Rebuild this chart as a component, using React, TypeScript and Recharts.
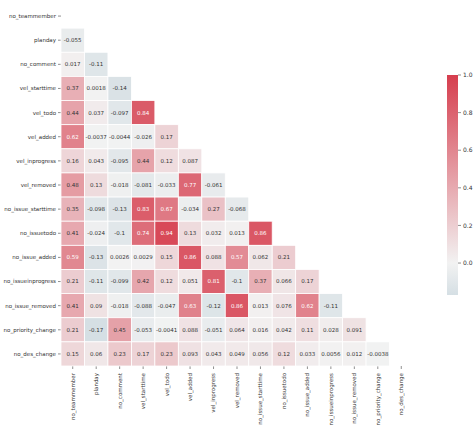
import {
  ScatterChart,
  Scatter,
  XAxis,
  YAxis,
  BarChart,
  Bar,
} from "recharts";

const labels = [
  "no_teammember",
  "planday",
  "no_comment",
  "vel_starttime",
  "vel_todo",
  "vel_added",
  "vel_inprogress",
  "vel_removed",
  "no_issue_starttime",
  "no_issuetodo",
  "no_issue_added",
  "no_issueinprogress",
  "no_issue_removed",
  "no_priority_change",
  "no_des_change",
];

// lower triangle, row i holds correlations with columns 0..i-1
const corrRows: number[][] = [
  [],
  [-0.055],
  [0.017, -0.11],
  [0.37, 0.0018, -0.14],
  [0.44, 0.037, -0.097, 0.84],
  [0.62, -0.0037, -0.0044, -0.026, 0.17],
  [0.16, 0.043, -0.095, 0.44, 0.12, 0.087],
  [0.48, 0.13, -0.018, -0.081, -0.033, 0.77, -0.061],
  [0.35, -0.098, -0.13, 0.83, 0.67, -0.034, 0.27, -0.068],
  [0.41, -0.024, -0.1, 0.74, 0.94, 0.13, 0.032, 0.013, 0.86],
  [0.59, -0.13, 0.0026, 0.0029, 0.15, 0.86, 0.088, 0.57, 0.062, 0.21],
  [0.21, -0.11, -0.099, 0.42, 0.12, 0.051, 0.81, -0.1, 0.37, 0.066, 0.17],
  [0.41, 0.09, -0.018, -0.088, -0.047, 0.63, -0.12, 0.86, 0.013, 0.076, 0.62, -0.11],
  [0.21, -0.17, 0.45, -0.053, -0.0041, 0.088, -0.051, 0.064, 0.016, 0.042, 0.11, 0.028, 0.091],
  [0.15, 0.06, 0.23, 0.17, 0.23, 0.093, 0.043, 0.049, 0.056, 0.12, 0.033, 0.0056, 0.012, -0.0038],
];

const colorbarTicks = [0, 0.2, 0.4, 0.6, 0.8, 1.0];
const colorbarRange = [-0.17, 1];

const POS = [214, 62, 78];
const MID = [242, 242, 242];
const NEG = [70, 130, 158];

function mix(a: number[], b: number[], t: number) {
  const c = a.map((v, i) => Math.round(v + (b[i] - v) * t));
  return `rgb(${c[0]},${c[1]},${c[2]})`;
}

function cellColor(v: number) {
  return v >= 0 ? mix(MID, POS, Math.min(v, 1)) : mix(MID, NEG, Math.min(-v, 1));
}

const cells = corrRows.flatMap((row, i) =>
  row.map((v, j) => ({ x: j, y: i, v }))
);

const FONT = "DejaVu Sans, sans-serif";
const CELL_W = 352 / 15;
const CELL_H = 362 / 15;

function Cell(props: any) {
  const { cx, cy, payload } = props;
  const v = payload.v;
  return (
    <g>
      <rect
        x={cx - CELL_W / 2}
        y={cy - CELL_H / 2}
        width={CELL_W}
        height={CELL_H}
        fill={cellColor(v)}
        stroke="#fff"
        strokeWidth={0.8}
      />
      <text
        x={cx}
        y={cy}
        dy="0.35em"
        textAnchor="middle"
        fontSize={5.5}
        fontFamily={FONT}
        fill={v > 0.5 ? "#fff" : "#333"}
      >
        {String(v)}
      </text>
    </g>
  );
}

function XTick(props: any) {
  const { x, y, payload } = props;
  return (
    <g transform={`translate(${x},${y})`}>
      <text
        transform="rotate(-90)"
        textAnchor="end"
        dy="0.35em"
        x={-2}
        fontSize={5.5}
        fontFamily={FONT}
        fill="#333"
      >
        {labels[payload.value]}
      </text>
    </g>
  );
}

function YTick(props: any) {
  const { x, y, payload } = props;
  return (
    <text
      x={x}
      y={y}
      dy="0.35em"
      textAnchor="end"
      fontSize={5.5}
      fontFamily={FONT}
      fill="#333"
    >
      {labels[payload.value]}
    </text>
  );
}

const idx = labels.map((_, i) => i);
const colorbarData = [{ name: "cb", range: colorbarRange }];
const zeroOffset = (colorbarRange[1] - 0) / (colorbarRange[1] - colorbarRange[0]);

export default function App() {
  return (
    <div
      style={{
        position: "absolute",
        left: 0,
        top: 0,
        width: 474,
        height: 427,
        background: "#fff",
      }}
    >
      <ScatterChart
        width={474}
        height={427}
        margin={{ top: 4, right: 61, bottom: 0, left: 0 }}
      >
        <XAxis
          type="number"
          dataKey="x"
          domain={[-0.5, 14.5]}
          ticks={idx}
          interval={0}
          height={61}
          axisLine={false}
          tickSize={3}
          tickLine={{ stroke: "#444", strokeWidth: 0.6 }}
          tick={<XTick />}
        />
        <YAxis
          type="number"
          dataKey="y"
          domain={[-0.5, 14.5]}
          reversed
          ticks={idx}
          interval={0}
          width={61}
          axisLine={false}
          tickSize={3}
          tickLine={{ stroke: "#444", strokeWidth: 0.6 }}
          tick={<YTick />}
        />
        <Scatter data={cells} shape={<Cell />} isAnimationActive={false} />
      </ScatterChart>

      <div style={{ position: "absolute", left: 447, top: 70 }}>
        <BarChart
          width={40}
          height={230}
          data={colorbarData}
          margin={{ top: 5, right: 0, bottom: 5, left: 0 }}
          barCategoryGap={0}
        >
          <defs>
            <linearGradient id="cbGrad" x1="0" y1="0" x2="0" y2="1">
              <stop offset="0" stopColor={cellColor(colorbarRange[1])} />
              <stop offset={zeroOffset} stopColor={cellColor(0)} />
              <stop offset="1" stopColor={cellColor(colorbarRange[0])} />
            </linearGradient>
          </defs>
          <XAxis dataKey="name" hide />
          <YAxis
            orientation="right"
            domain={colorbarRange}
            ticks={colorbarTicks}
            width={29}
            axisLine={false}
            tickSize={3}
            tickLine={{ stroke: "#444", strokeWidth: 0.6 }}
            tickFormatter={(v: number) => v.toFixed(1)}
            tick={{ fontSize: 6, fontFamily: FONT, fill: "#333" }}
          />
          <Bar dataKey="range" fill="url(#cbGrad)" isAnimationActive={false} />
        </BarChart>
      </div>
    </div>
  );
}
